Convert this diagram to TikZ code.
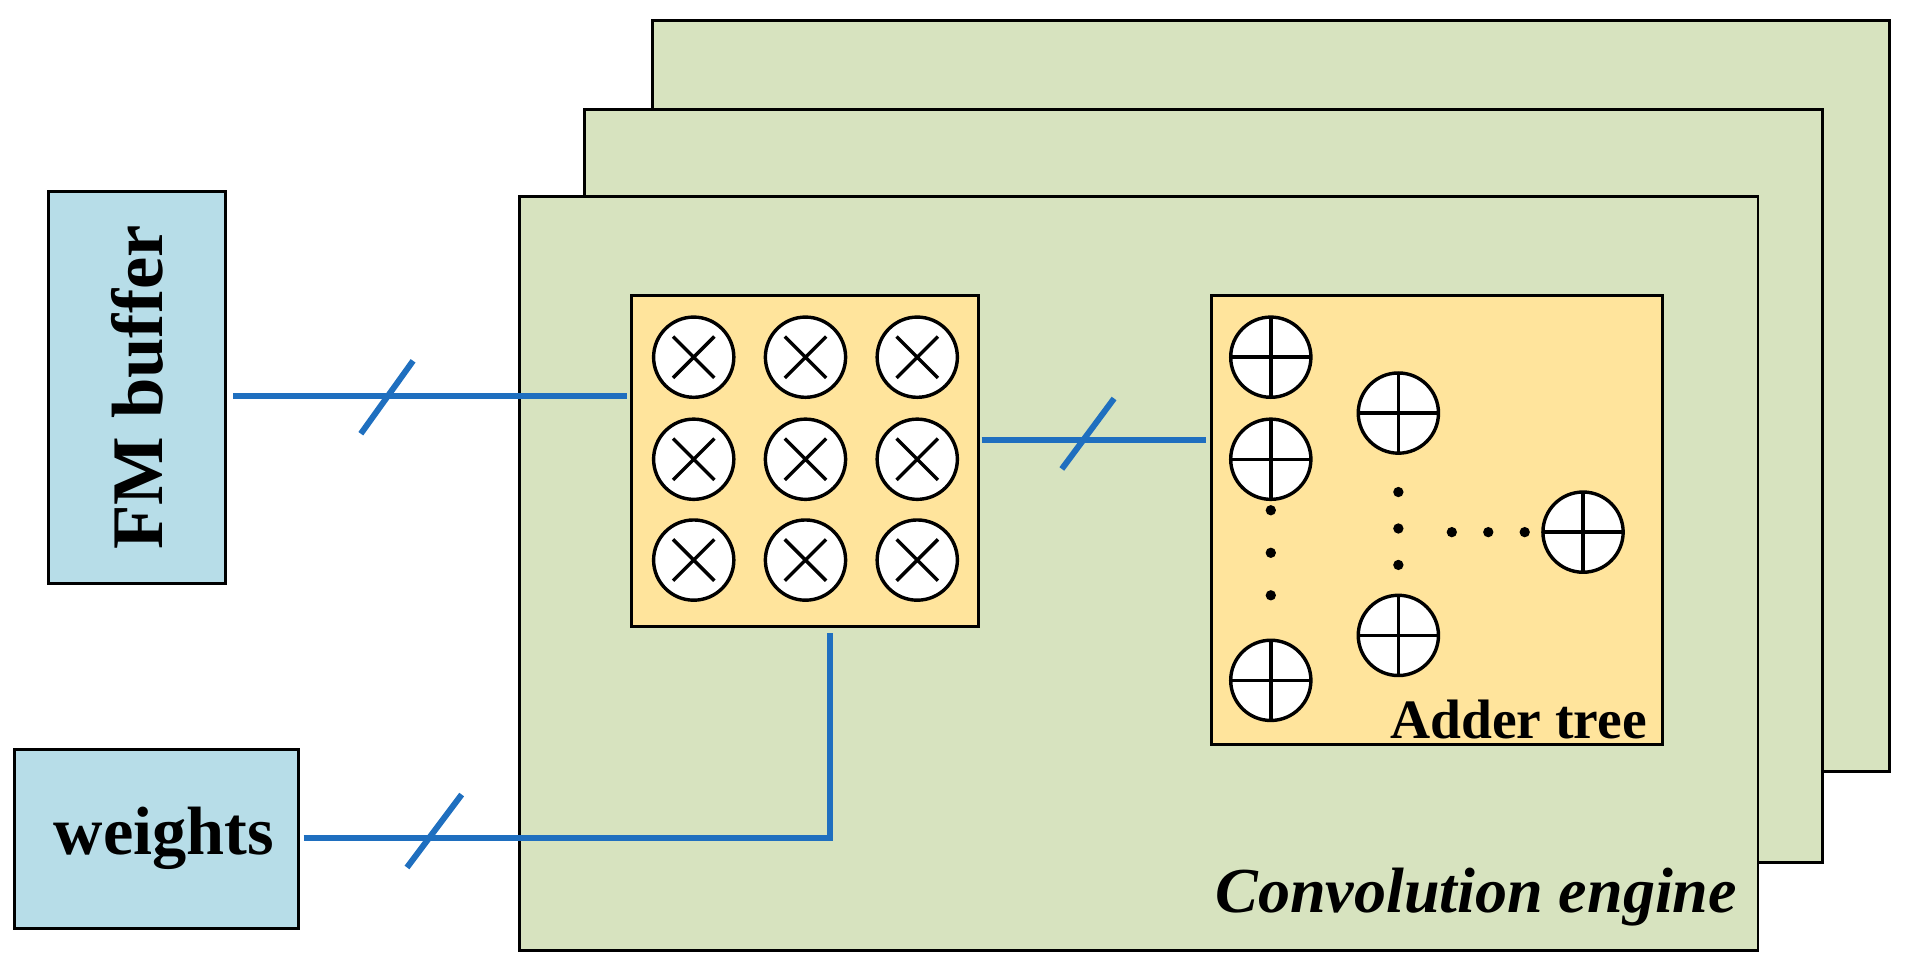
\documentclass[tikz,border=0pt]{standalone}
\usepackage{fontspec}
\setmainfont{Liberation Serif}
\begin{document}
\begin{tikzpicture}[x=0.01cm,y=-0.01cm,
  panel/.style={draw=black,line width=0.7pt,fill=panelc},
  buf/.style={draw=black,line width=0.7pt,fill=bufc},
  unit/.style={draw=black,line width=0.7pt,fill=unitc},
  mul/.style={circle,draw=black,line width=0.8pt,fill=white,minimum size=0.66cm,inner sep=0pt,
    path picture={\draw[line width=0.8pt] ([shift={(-0.17cm,-0.17cm)}]path picture bounding box.center) -- ([shift={(0.17cm,0.17cm)}]path picture bounding box.center)
      ([shift={(-0.17cm,0.17cm)}]path picture bounding box.center) -- ([shift={(0.17cm,-0.17cm)}]path picture bounding box.center);}},
  add/.style={circle,draw=black,line width=0.8pt,fill=white,minimum size=0.66cm,inner sep=0pt,
    path picture={\draw[line width=0.8pt] (path picture bounding box.north) -- (path picture bounding box.south)
      (path picture bounding box.west) -- (path picture bounding box.east);}},
  wire/.style={draw=wirec,line width=1.4pt},
  dot/.style={circle,fill=black,inner sep=0pt,minimum size=0.085cm}]
\definecolor{panelc}{HTML}{D7E3BF}
\definecolor{bufc}{HTML}{B7DDE8}
\definecolor{unitc}{HTML}{FFE49C}
\definecolor{wirec}{HTML}{1F6FBF}
\useasboundingbox (0,0) rectangle (1568,806);
\draw[panel] (537,17) rectangle (1555,635);
\draw[panel] (481,90) rectangle (1500,710);
\draw[panel] (428,162) rectangle (1447,782);
\node[font=\bfseries\itshape\fontsize{15}{15}\selectfont] (ce) at (1215,738) {Convolution engine};
\draw[buf] (40,158) rectangle (186,480);
\node[rotate=90,font=\bfseries\fontsize{17}{17}\selectfont] (fm) at (113,319) {FM buffer};
\draw[buf] (12,617) rectangle (246,764);
\node[font=\bfseries\fontsize{16}{16}\selectfont] (w) at (135,690) {weights};
\draw[unit] (520,243) rectangle (805,516);
\draw[unit] (997,243) rectangle (1368,613);
\foreach \x [count=\i] in {571,663,755}
  \foreach \y [count=\j] in {294,378,461}
    \node[mul] (m\i\j) at (\x,\y) {};
\node[add] (a1) at (1046,294) {};
\node[add] (a2) at (1046,378) {};
\node[add] (a3) at (1046,560) {};
\node[add] (b1) at (1151,340) {};
\node[add] (b2) at (1151,523) {};
\node[add] (c1) at (1303,438) {};
\foreach \y in {420,455,490} \node[dot] at (1046,\y) {};
\foreach \y in {405,435,465} \node[dot] at (1151,\y) {};
\foreach \x in {1195,1225,1255} \node[dot] at (\x,438) {};
\node[font=\bfseries\fontsize{13}{13}\selectfont] (at) at (1250,592) {Adder tree};
\coordinate (p1) at (192,326); \coordinate (p2) at (516,326);
\draw[wire] (p1) -- (p2);
\draw[wire] (297,357) -- (340,297);
\coordinate (q1) at (808,362); \coordinate (q2) at (993,362);
\draw[wire] (q1) -- (q2);
\draw[wire] (874,386) -- (917,328);
\coordinate (r1) at (250,690); \coordinate (r2) at (683,690); \coordinate (r3) at (683,521);
\draw[wire] (r1) -- (r2) -- (r3);
\draw[wire] (335,714) -- (380,654);
\end{tikzpicture}
\end{document}
